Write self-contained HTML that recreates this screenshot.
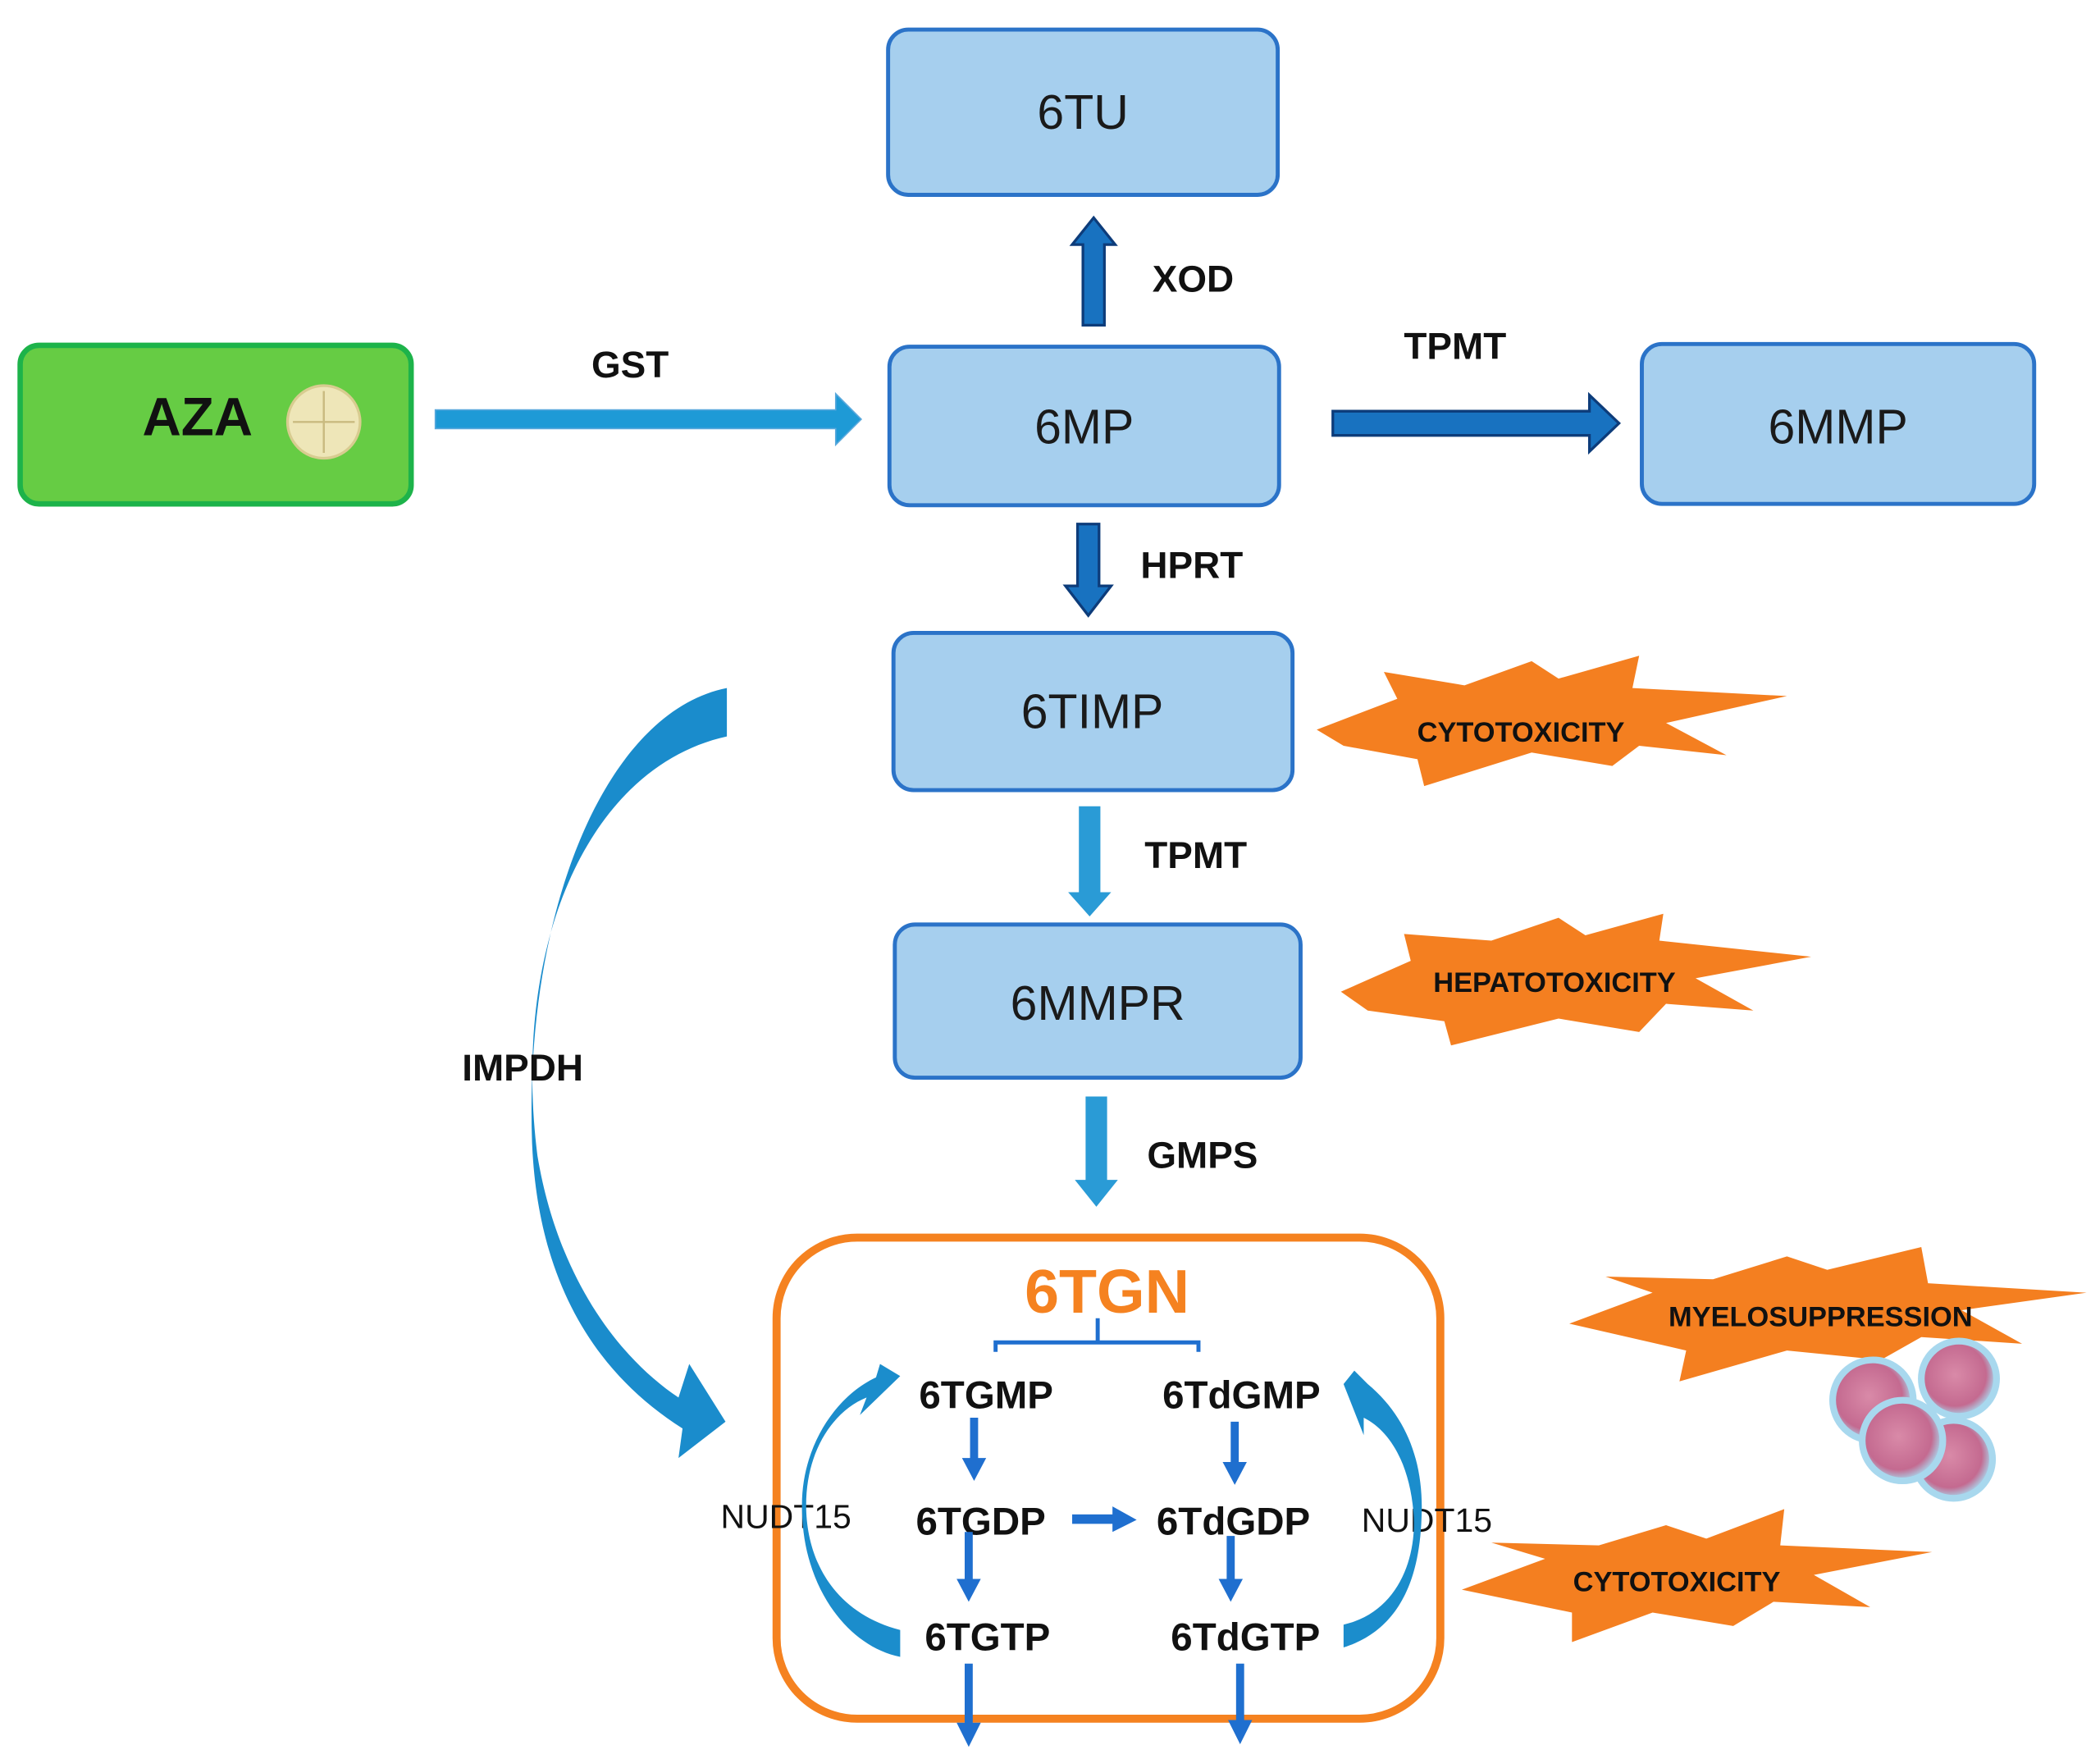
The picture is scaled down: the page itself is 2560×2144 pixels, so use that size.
<!DOCTYPE html>
<html><head><meta charset="utf-8"><style>
html,body{margin:0;padding:0;background:#fff;}
svg{display:block;}
text{font-family:"Liberation Sans",sans-serif;}
</style></head><body>
<svg width="2560" height="2144" viewBox="0 0 1563 1309" preserveAspectRatio="none" xmlns="http://www.w3.org/2000/svg">
<defs>
<radialGradient id="cell" cx="45%" cy="45%" r="55%"><stop offset="0" stop-color="#d98aa8"/><stop offset="0.75" stop-color="#c46a90"/><stop offset="1" stop-color="#a8d8ee"/></radialGradient>
</defs>
<g fill="#a6cfee" stroke="#2b73c8" stroke-width="3">
<rect x="661" y="22" width="290" height="123" rx="15"/>
<rect x="662" y="258" width="290" height="118" rx="15"/>
<rect x="1222" y="256" width="292" height="119" rx="15"/>
<rect x="665" y="471" width="297" height="117" rx="15"/>
<rect x="666" y="688" width="302" height="114" rx="15"/>
</g>
<rect x="15" y="257" width="291" height="118" rx="14" fill="#66cc44" stroke="#1db34a" stroke-width="4"/>
<circle cx="241" cy="314" r="27" fill="#eee6b8" stroke="#d8cc90" stroke-width="2"/>
<path d="M218 314 H264 M241 291 V337" stroke="#c9bb80" stroke-width="1.5"/>
<g font-size="36" fill="#1a1a1a" text-anchor="middle">
<text x="806" y="96">6TU</text>
<text x="807" y="330">6MP</text>
<text x="1368" y="330">6MMP</text>
<text x="813" y="542">6TIMP</text>
<text x="817" y="759">6MMPR</text>
</g>
<text x="147" y="324" font-size="40" font-weight="bold" text-anchor="middle" fill="#111">AZA</text>
<!-- arrows -->
<path d="M324 305 H622 V293 L641 312 L622 331 V319 H324Z" fill="#1e9ad6" stroke="#5aa8dc" stroke-width="1"/>
<path d="M806 242 V182 H798 L814 162 L830 182 H822 V242Z" fill="#1872c0" stroke="#0d3c7a" stroke-width="2"/>
<path d="M992 306 H1183 V294 L1205 315 L1183 336 V324 H992Z" fill="#1872c0" stroke="#0d3c7a" stroke-width="2"/>
<path d="M802 390 V436 H793 L810 458 L827 436 H818 V390Z" fill="#1872c0" stroke="#0d3c7a" stroke-width="2"/>
<path d="M803 600 V664 H795 L811 682 L827 664 H819 V600Z" fill="#2a9bd6"/>
<path d="M808 816 V878 H800 L816 898 L832 878 H824 V816Z" fill="#2a9bd6"/>
<!-- IMPDH curve -->
<path d="M541 512 V548 C440 570 380 700 400 860 C415 950 460 1010 505 1040 L513 1015 L540 1058 L505 1085 L508 1063 C440 1020 400 950 396 850 C390 680 450 530 541 512Z" fill="#1a8ccc"/>
<g font-size="28" font-weight="bold" fill="#111" text-anchor="middle">
<text x="469" y="281">GST</text>
<text x="888" y="217">XOD</text>
<text x="1083" y="267">TPMT</text>
<text x="887" y="430">HPRT</text>
<text x="890" y="646">TPMT</text>
<text x="895" y="869">GMPS</text>
<text x="389" y="804">IMPDH</text>
</g>
<!-- starbursts -->
<g fill="#f47f20">
<path d="M980 543 L1040 520 L1030 500 L1090 510 L1140 492 L1160 505 L1220 488 L1215 512 L1330 518 L1240 538 L1285 562 L1220 555 L1200 570 L1140 560 L1060 585 L1055 565 L1000 555Z"/>
<path d="M998 738 L1050 715 L1045 695 L1110 700 L1160 683 L1180 696 L1238 680 L1235 700 L1348 712 L1262 728 L1305 752 L1240 747 L1220 768 L1160 758 L1080 778 L1075 760 L1018 752Z"/>
<path d="M1168 985 L1230 962 L1195 950 L1275 952 L1330 935 L1360 945 L1430 928 L1435 955 L1553 962 L1460 975 L1505 1000 L1430 995 L1400 1012 L1330 1005 L1250 1028 L1255 1005Z"/>
<path d="M1088 1183 L1150 1160 L1110 1148 L1190 1150 L1240 1135 L1270 1145 L1328 1123 L1325 1150 L1438 1155 L1350 1172 L1392 1196 L1320 1192 L1290 1210 L1230 1200 L1170 1222 L1170 1200Z"/>
</g>
<g font-size="21" font-weight="bold" fill="#111" text-anchor="middle">
<text x="1132" y="552">CYTOTOXICITY</text>
<text x="1157" y="738">HEPATOTOXICITY</text>
<text x="1355" y="987">MYELOSUPPRESSION</text>
<text x="1248" y="1184">CYTOTOXICITY</text>
</g>
<!-- cells -->
<g stroke="#a8d8ee" stroke-width="5" fill="url(#cell)">
<circle cx="1394" cy="1042" r="30"/>
<circle cx="1458" cy="1026" r="28"/>
<circle cx="1454" cy="1086" r="29"/>
<circle cx="1416" cy="1072" r="30"/>
</g>
<!-- 6TGN box -->
<rect x="578" y="921" width="494" height="358" rx="60" fill="#fff" stroke="#f58220" stroke-width="6"/>
<text x="824" y="977" font-size="46" font-weight="bold" fill="#f58220" text-anchor="middle">6TGN</text>
<path d="M741 1006 V999 H892 V1006 M817 999 V981" fill="none" stroke="#1f6fcf" stroke-width="3"/>
<g font-size="29" font-weight="bold" fill="#111" text-anchor="middle">
<text x="734" y="1048">6TGMP</text>
<text x="924" y="1048">6TdGMP</text>
<text x="730" y="1142">6TGDP</text>
<text x="918" y="1142">6TdGDP</text>
<text x="735" y="1228">6TGTP</text>
<text x="927" y="1228">6TdGTP</text>
</g>
<g font-size="25" fill="#111" text-anchor="middle">
<text x="585" y="1137">NUDT15</text>
<text x="1062" y="1140">NUDT15</text>
</g>
<g fill="#1f6fcf">
<path d="M722 1055 V1085 H716 L725 1102 L734 1085 H728 V1055Z"/>
<path d="M916 1058 V1088 H910 L919 1105 L928 1088 H922 V1058Z"/>
<path d="M718 1140 V1175 H712 L721 1192 L730 1175 H724 V1140Z"/>
<path d="M913 1143 V1175 H907 L916 1192 L925 1175 H919 V1143Z"/>
<path d="M718 1238 V1282 H712 L721 1300 L730 1282 H724 V1238Z"/>
<path d="M920 1238 V1280 H914 L923 1298 L932 1280 H926 V1238Z"/>
<path d="M798 1127 H828 V1121 L846 1131 L828 1140 V1134 H798Z"/>
</g>
<path d="M670 1233 V1213 C620 1200 600 1160 600 1120 C600 1080 620 1050 645 1040 L640 1053 L670 1024 L655 1015 L652 1025 C620 1040 595 1080 597 1125 C598 1180 630 1225 670 1233Z" fill="#1b8dcc"/>
<path d="M1000 1226 V1209 C1040 1200 1055 1160 1052 1125 C1049 1090 1035 1065 1015 1055 L1015 1068 L1000 1030 L1008 1020 L1018 1030 C1048 1055 1060 1090 1058 1130 C1056 1185 1035 1215 1000 1226Z" fill="#1b8dcc"/>
</svg>
</body></html>
